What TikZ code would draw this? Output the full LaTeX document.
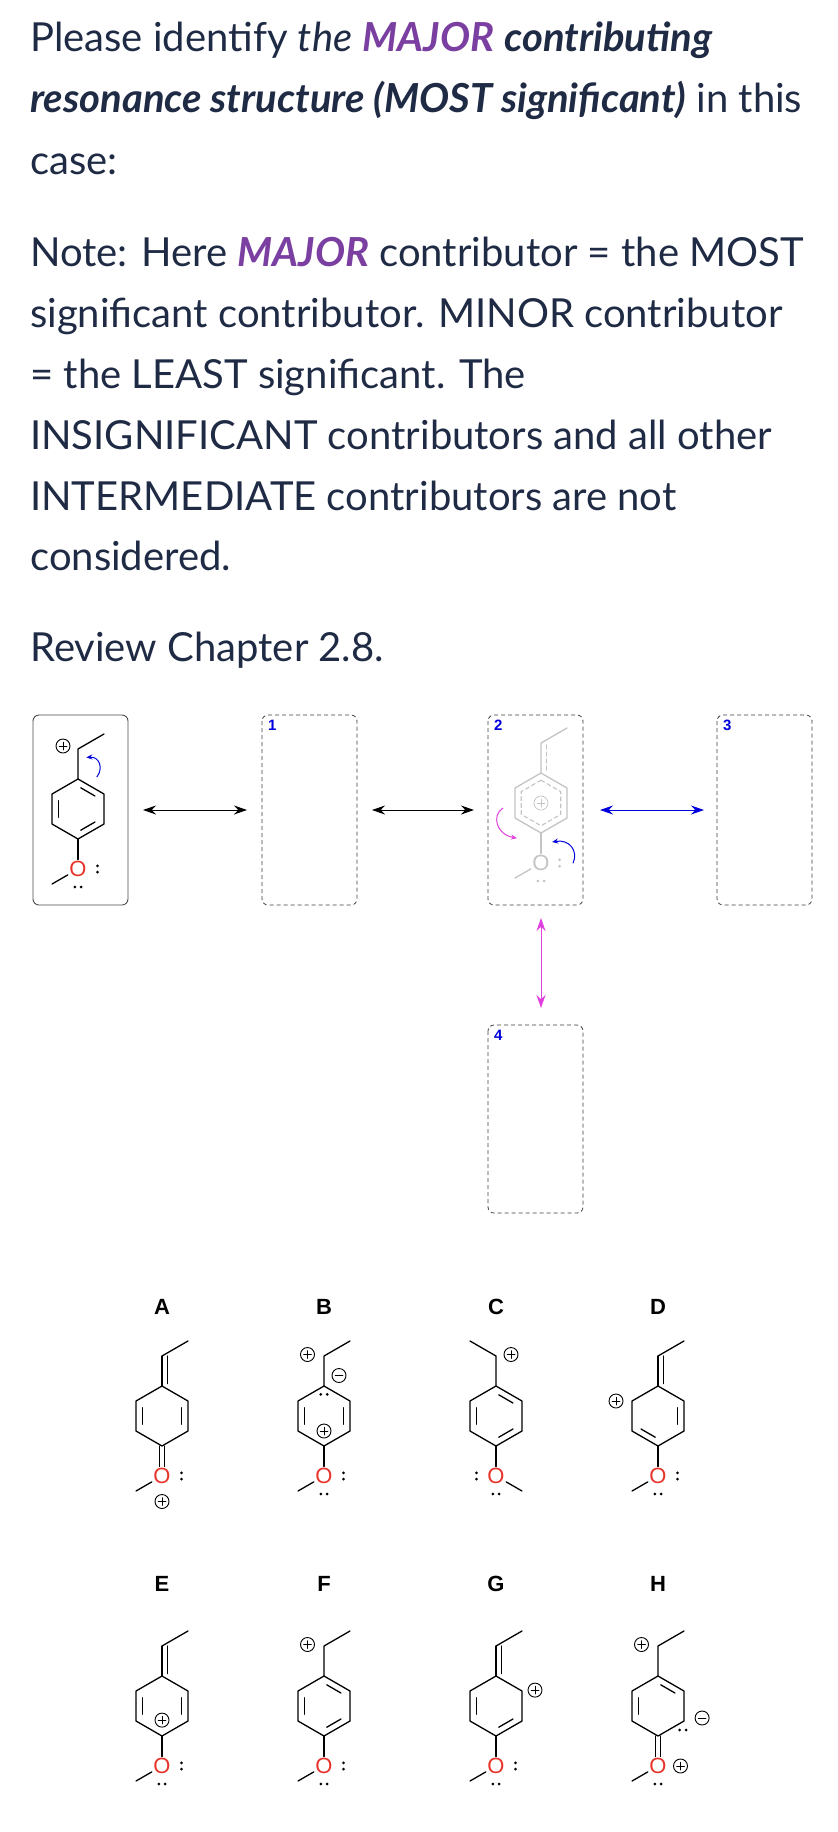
\documentclass[tikz,border=0pt]{standalone}
\usepackage{fontspec}
\setmainfont{Lato}
\newfontfamily\arial{Liberation Sans}
\usetikzlibrary{arrows.meta,calc}
\definecolor{txt}{HTML}{1F2A44}
\definecolor{purp}{HTML}{7A3FA0}
\definecolor{ored}{HTML}{E8332A}
\definecolor{ablue}{HTML}{0000DD}
\definecolor{mag}{HTML}{E040E0}
\definecolor{lgray}{HTML}{C4C4C4}
\newcommand\setring{%
  \coordinate (T) at (0,1); \coordinate (UR) at (0.866,0.5); \coordinate (LR) at (0.866,-0.5);
  \coordinate (B) at (0,-1); \coordinate (LL) at (-0.866,-0.5); \coordinate (UL) at (-0.866,0.5);
  \coordinate (iT) at (0,0.76); \coordinate (iUR) at (0.658,0.38); \coordinate (iLR) at (0.658,-0.38);
  \coordinate (iB) at (0,-0.76); \coordinate (iLL) at (-0.658,-0.38); \coordinate (iUL) at (-0.658,0.38);
  \coordinate (C1) at (0,2); \coordinate (Me) at (0.866,2.5);
  \draw (T)--(UR)--(LR)--(B)--(LL)--(UL)--cycle;}
\newcommand\idb[2]{\draw ($(#1)!0.14!(#2)$) -- ($(#1)!0.86!(#2)$);}
\newcommand\exodbl{\draw (T)--(C1); \draw ([xshift=5.5pt]$(T)!0.08!(C1)$) -- ([xshift=5.5pt]C1);}
\newcommand\lpv[1]{\fill ($(#1)+(0,3.2pt)$) circle (1.5pt) ($(#1)+(0,-3.2pt)$) circle (1.5pt);}
\newcommand\lph[1]{\fill ($(#1)+(3.2pt,0)$) circle (1.5pt) ($(#1)+(-3.2pt,0)$) circle (1.5pt);}
\tikzset{
  bond/.style={line width=1.3pt,line cap=round,line join=round},
  oat/.style={text=ored,font=\arial\fontsize{22}{22}\selectfont,inner sep=1pt},
  plusc/.style={circle,draw,line width=0.9pt,minimum size=14pt,inner sep=0pt,
    path picture={\draw[line width=0.9pt] ([xshift=-3.8pt]path picture bounding box.center) -- ([xshift=3.8pt]path picture bounding box.center)
      ([yshift=-3.8pt]path picture bounding box.center) -- ([yshift=3.8pt]path picture bounding box.center);}},
  minusc/.style={circle,draw,line width=0.9pt,minimum size=14pt,inner sep=0pt,
    path picture={\draw[line width=0.9pt] ([xshift=-3.8pt]path picture bounding box.center) -- ([xshift=3.8pt]path picture bounding box.center);}},
  mol/.style={shift={#1},x={(30pt,0pt)},y={(0pt,30pt)},bond},
  lbl/.style={font=\arial\bfseries\fontsize{22}{22}\selectfont},
  txtline/.style={anchor=base west,inner sep=0pt,text=txt,font=\fontsize{40}{40}\selectfont},
  ansbox/.style={draw=black!75,dashed,dash pattern=on 4pt off 3pt,rounded corners=6pt,line width=0.8pt},
  boxnum/.style={anchor=north west,text=ablue,font=\arial\bfseries\fontsize{15}{15}\selectfont,inner sep=0pt},
  rarr/.style={line width=1pt,{Stealth[length=13pt,width=9pt]}-{Stealth[length=13pt,width=9pt]}},
  carr/.style={line width=1pt,-{Stealth[length=6pt,width=5pt]}},
}
\begin{document}
\begin{tikzpicture}[x=1pt,y=-1pt]
\fill[white] (0,0) rectangle (838,1832);
\useasboundingbox (0,0) rectangle (838,1832);
% text
\node[txtline] (l1) at (30,51) {Please identify \textit{the} \textbf{\textit{\color{purp}MAJOR}} \textbf{\textit{contributing}}};
\node[txtline] (l2) at (30,112) {\textbf{\textit{resonance structure (MOST significant)}} in this};
\node[txtline] (l3) at (30,174) {case:};
\node[txtline] (l4) at (30,266) {Note: Here \textbf{\textit{\color{purp}MAJOR}} contributor = the MOST};
\node[txtline] (l5) at (30,327) {significant contributor. MINOR contributor};
\node[txtline] (l6) at (30,388) {= the LEAST significant. The};
\node[txtline] (l7) at (30,449) {INSIGNIFICANT contributors and all other};
\node[txtline] (l8) at (30,510) {INTERMEDIATE contributors are not};
\node[txtline] (l9) at (30,570) {considered.};
\node[txtline] (l10) at (30,661) {Review Chapter 2.8.};
% boxes
\draw[draw=black!70,line width=0.9pt,rounded corners=6pt] (33,715) rectangle (128,905);
\draw[ansbox] (262,715) rectangle (357,905);
\draw[ansbox] (488,715) rectangle (583,905);
\draw[ansbox] (717,715) rectangle (812,905);
\draw[ansbox] (488,1025) rectangle (583,1213);
\node[boxnum] (n1) at (268,720) {1};
\node[boxnum] (n2) at (494,720) {2};
\node[boxnum] (n3) at (723,720) {3};
\node[boxnum] (n4) at (494,1030) {4};
\coordinate (a1s) at (143,810); \coordinate (a1e) at (247,810);
\coordinate (a2s) at (372,810); \coordinate (a2e) at (474,810);
\coordinate (a3s) at (600,810); \coordinate (a3e) at (704,810);
\coordinate (a4s) at (541,918); \coordinate (a4e) at (541,1008);
\draw[rarr] (a1s) -- (a1e);
\draw[rarr] (a2s) -- (a2e);
\draw[rarr,ablue] (a3s) -- (a3e);
\draw[rarr,mag] (a4s) -- (a4e);
% reference molecule
\begin{scope}[mol={(78,809)}]
\setring \idb{iT}{iUR}\idb{iLR}{iB}\idb{iLL}{iUL}
\draw (T)--(C1)--(Me);
\node[plusc] (rp) at (-0.5,2.1) {};
\node[oat] (rO) at (0,-2) {O};
\draw (B)--(rO); \draw (rO) -- (-0.866,-2.5);
\lpv{0.65,-2} \lph{0,-2.6}
\draw[ablue,carr] (0.63,1.07) .. controls (0.85,1.35) and (0.72,1.75) .. (0.28,1.72);
\end{scope}
% box 2 molecule
\begin{scope}[mol={(541,803)},lgray]
\setring
\draw[dashed,dash pattern=on 4pt off 3pt,line width=1.1pt] (iT)--(iUR)--(iLR)--(iB)--(iLL)--(iUL)--cycle;
\draw (T)--(C1)--(Me);
\draw[dashed,dash pattern=on 4pt off 3pt,line width=1.1pt] ([xshift=5.5pt]$(T)!0.1!(C1)$) -- ([xshift=5.5pt]C1);
\node[plusc,draw=lgray,line width=0.7pt] (gp) at (0,0) {};
\node[oat,text=lgray] (gO) at (0,-2) {O};
\draw (B)--(gO); \draw (gO) -- (-0.866,-2.5);
\lpv{0.62,-2} \lph{0,-2.6}
\draw[mag,carr] (-1.27,-0.17) .. controls (-1.65,-0.4) and (-1.5,-1.05) .. (-0.8,-1.17);
\draw[ablue,carr] (1.07,-2.0) .. controls (1.25,-1.6) and (0.95,-1.2) .. (0.37,-1.3);
\end{scope}
% labels
\node[lbl] (LA) at (162,1307) {A};
\node[lbl] (LB) at (324,1307) {B};
\node[lbl] (LC) at (496,1307) {C};
\node[lbl] (LD) at (658,1307) {D};
\node[lbl] (LE) at (162,1584) {E};
\node[lbl] (LF) at (324,1584) {F};
\node[lbl] (LG) at (496,1584) {G};
\node[lbl] (LH) at (658,1584) {H};
% A
\begin{scope}[mol={(162,1416)}]
\setring \idb{iUL}{iLL}\idb{iUR}{iLR} \exodbl \draw (C1)--(Me);
\node[oat] (oA) at (0,-2) {O};
\draw ([xshift=-2.6pt]B) -- ([xshift=-2.6pt]oA.north); \draw ([xshift=2.6pt]B) -- ([xshift=2.6pt]oA.north);
\draw (oA) -- (-0.866,-2.5);
\lpv{0.65,-2}
\node[plusc] (pA) at (0,-2.85) {};
\end{scope}
% B
\begin{scope}[mol={(324,1416)}]
\setring \idb{iUL}{iLL}\idb{iUR}{iLR} \draw (T)--(C1)--(Me);
\node[plusc] (pB1) at (-0.55,2.05) {};
\node[minusc] (mB) at (0.5,1.35) {};
\lph{0,0.72}
\node[plusc] (pB2) at (0,-0.5) {};
\node[oat] (oB) at (0,-2) {O};
\draw (B)--(oB); \draw (oB) -- (-0.866,-2.5);
\lpv{0.65,-2} \lph{0,-2.6}
\end{scope}
% C
\begin{scope}[mol={(496,1416)}]
\setring \idb{iT}{iUR}\idb{iLR}{iB}\idb{iLL}{iUL} \draw (T)--(C1)--(-0.866,2.5);
\node[plusc] (pC) at (0.5,2.05) {};
\node[oat] (oC) at (0,-2) {O};
\draw (B)--(oC); \draw (oC) -- (0.866,-2.5);
\lpv{-0.65,-2} \lph{0,-2.6}
\end{scope}
% D
\begin{scope}[mol={(658,1416)}]
\setring \idb{iUR}{iLR}\idb{iLL}{iB} \exodbl \draw (C1)--(Me);
\node[plusc] (pD) at (-1.4,0.5) {};
\node[oat] (oD) at (0,-2) {O};
\draw (B)--(oD); \draw (oD) -- (-0.866,-2.5);
\lpv{0.65,-2} \lph{0,-2.6}
\end{scope}
% E
\begin{scope}[mol={(162,1706)}]
\setring \idb{iUL}{iLL}\idb{iUR}{iLR} \exodbl \draw (C1)--(Me);
\node[plusc] (pE) at (0,-0.47) {};
\node[oat] (oE) at (0,-2) {O};
\draw (B)--(oE); \draw (oE) -- (-0.866,-2.5);
\lpv{0.65,-2} \lph{0,-2.6}
\end{scope}
% F
\begin{scope}[mol={(324,1706)}]
\setring \idb{iT}{iUR}\idb{iLR}{iB}\idb{iLL}{iUL} \draw (T)--(C1)--(Me);
\node[plusc] (pF) at (-0.55,2.05) {};
\node[oat] (oF) at (0,-2) {O};
\draw (B)--(oF); \draw (oF) -- (-0.866,-2.5);
\lpv{0.65,-2} \lph{0,-2.6}
\end{scope}
% G
\begin{scope}[mol={(496,1706)}]
\setring \idb{iUL}{iLL}\idb{iLR}{iB} \exodbl \draw (C1)--(Me);
\node[plusc] (pG) at (1.3,0.53) {};
\node[oat] (oG) at (0,-2) {O};
\draw (B)--(oG); \draw (oG) -- (-0.866,-2.5);
\lpv{0.65,-2} \lph{0,-2.6}
\end{scope}
% H
\begin{scope}[mol={(658,1706)}]
\setring \idb{iT}{iUR}\idb{iUL}{iLL} \draw (T)--(C1)--(Me);
\node[plusc] (pH1) at (-0.55,2.05) {};
\node[minusc] (mH) at (1.47,-0.4) {};
\lph{0.83,-0.8}
\node[oat] (oH) at (0,-2) {O};
\draw ([xshift=-2.6pt]B) -- ([xshift=-2.6pt]oH.north); \draw ([xshift=2.6pt]B) -- ([xshift=2.6pt]oH.north);
\draw (oH) -- (-0.866,-2.5);
\lph{0,-2.6}
\node[plusc] (pH2) at (0.75,-2) {};
\end{scope}
\end{tikzpicture}
\end{document}
